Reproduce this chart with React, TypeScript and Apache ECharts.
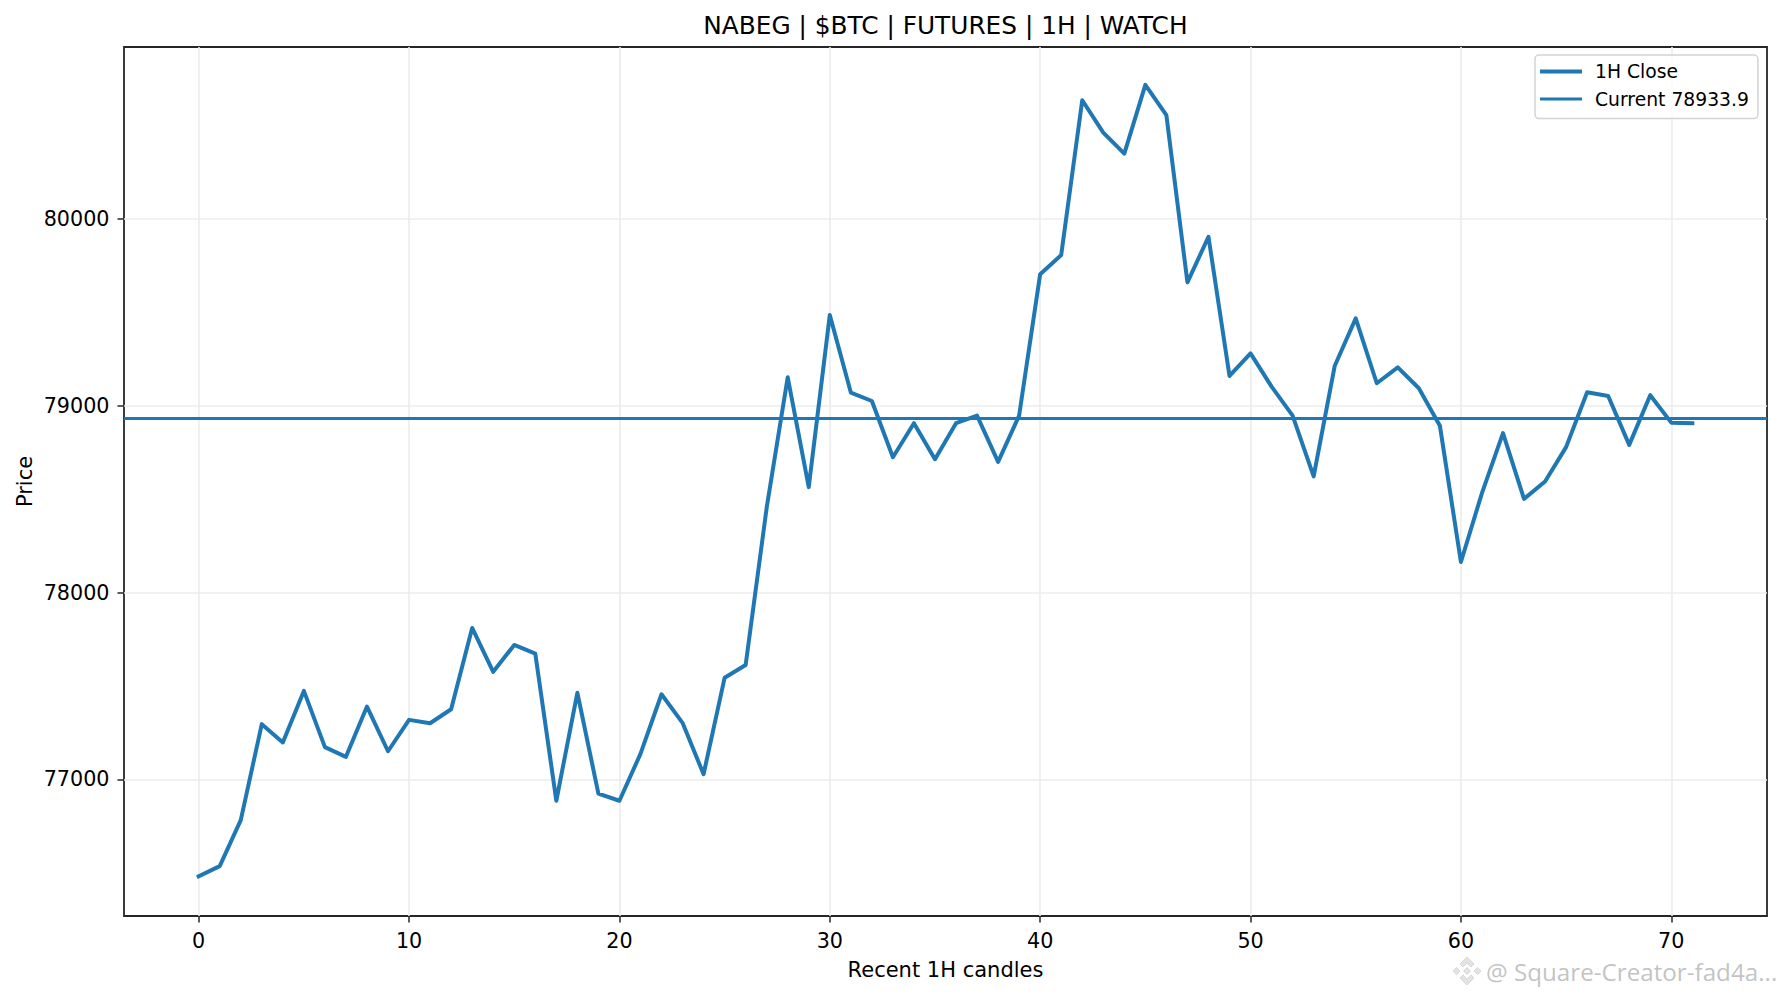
import React, { useEffect, useRef } from "react";
import * as echarts from "echarts";

const closeSeriesName = "1H Close";
const currentPrice = 78933.9;
const currentSeriesName = "Current 78933.9";
const titleText = "NABEG | $BTC | FUTURES | 1H | WATCH";
const xAxisLabel = "Recent 1H candles";
const yAxisLabel = "Price";
const xTicks = [0, 10, 20, 30, 40, 50, 60, 70];
const yTicks = [77000, 78000, 79000, 80000];
const closes = [
  76481, 76536, 76782, 77296, 77198, 77474, 77173, 77121, 77390, 77151,
  77319, 77301, 77376, 77811, 77576, 77720, 77674, 76886, 77464, 76924,
  76886, 77137, 77456, 77303, 77028, 77544, 77613, 78455, 79153, 78565,
  79486, 79071, 79026, 78725, 78907, 78714, 78907, 78948, 78700, 78948,
  79705, 79807, 80636, 80463, 80350, 80718, 80556, 79661, 79905, 79160,
  79281, 79103, 78948, 78622, 79213, 79468, 79121, 79206, 79094, 78894,
  78164, 78533, 78854, 78502, 78595, 78779, 79073, 79053, 78791, 79057,
  78910, 78907,
];

const BLUE = "#1f77b4";
const FONT = "DejaVu Sans";

echarts.graphic.registerShape(
  "wmLogo",
  echarts.graphic.extendPath(
    "M0 -14 L7 -7 L4 -4 L0 -8 L-4 -4 L-7 -7 Z M-14 0 L-10.5 -3.5 L-7 0 L-10.5 3.5 Z M14 0 L10.5 -3.5 L7 0 L10.5 3.5 Z M0 -3.5 L3.5 0 L0 3.5 L-3.5 0 Z M0 14 L7 7 L4 4 L0 8 L-4 4 L-7 7 Z",
    {}
  )
);

export default function App() {
  const ref = useRef<HTMLDivElement>(null);
  useEffect(() => {
    document.body.style.margin = "0";
    const chart = echarts.init(ref.current!, undefined, { renderer: "svg" });
    chart.setOption({
      animation: false,
      backgroundColor: "#ffffff",
      textStyle: { fontFamily: FONT },
      title: {
        text: titleText,
        left: 945.4,
        top: 12.5,
        textAlign: "center",
        padding: 0,
        textStyle: { fontFamily: FONT, fontSize: 24.8, fontWeight: "normal", color: "#000" },
      },
      grid: {
        left: 124,
        top: 47,
        width: 1643,
        height: 869,
        show: true,
        borderColor: "#262626",
        borderWidth: 1.8,
        backgroundColor: "transparent",
      },
      legend: {
        left: 1535,
        top: 55,
        orient: "vertical",
        padding: [5.6, 9, 8.6, 5],
        itemWidth: 42,
        itemHeight: 14,
        itemGap: 5.4,
        borderColor: "#d4d4d4",
        borderWidth: 1.5,
        borderRadius: 4,
        backgroundColor: "rgba(255,255,255,0.8)",
        selectedMode: false,
        textStyle: { fontFamily: FONT, fontSize: 18.75, lineHeight: 22, color: "#000", padding: [0, 0, 0, 8] },
        data: [
          { name: closeSeriesName, icon: "path://M0 0H42V4H0Z" },
          { name: currentSeriesName, icon: "path://M0 0H42V3H0Z" },
        ],
      },
      xAxis: {
        type: "value",
        min: -3.55,
        max: 74.55,
        name: xAxisLabel,
        nameLocation: "middle",
        nameGap: 43,
        nameTextStyle: { fontFamily: FONT, fontSize: 21, color: "#000" },
        axisLine: { show: false, onZero: false },
        axisTick: { show: true, length: 6.5, customValues: xTicks, lineStyle: { color: "#262626", width: 1.5 } },
        axisLabel: { customValues: xTicks, margin: 14, fontFamily: FONT, fontSize: 20.7, color: "#000", formatter: (v: number) => String(v) },
        splitLine: { show: true, lineStyle: { color: "#ececec", width: 1.6 } },
      },
      yAxis: {
        type: "value",
        min: 76269,
        max: 80921,
        name: yAxisLabel,
        nameLocation: "middle",
        nameRotate: 90,
        nameGap: 88.5,
        nameMoveOverlap: false,
        nameTextStyle: { fontFamily: FONT, fontSize: 21, color: "#000" },
        axisLine: { show: false, onZero: false },
        axisTick: { show: true, length: 6.5, customValues: yTicks, lineStyle: { color: "#262626", width: 1.5 } },
        axisLabel: { customValues: yTicks, margin: 14.5, fontFamily: FONT, fontSize: 20.7, color: "#000", formatter: (v: number) => String(v) },
        splitLine: { show: true, lineStyle: { color: "#ececec", width: 1.6 } },
      },
      series: [
        {
          name: closeSeriesName,
          type: "line",
          symbol: "none",
          showSymbol: false,
          data: closes.map((v, i) => [i, v]),
          itemStyle: { color: BLUE },
          lineStyle: { color: BLUE, width: 4, cap: "square", join: "round" },
          z: 3,
        },
        {
          name: currentSeriesName,
          type: "line",
          symbol: "none",
          showSymbol: false,
          data: [],
          itemStyle: { color: BLUE },
          lineStyle: { color: BLUE, width: 3 },
          markLine: {
            silent: true,
            symbol: "none",
            label: { show: false },
            lineStyle: { color: BLUE, width: 3, type: "solid" },
            data: [{ yAxis: currentPrice }],
          },
          z: 4,
        },
      ],
      graphic: [
        {
          type: "wmLogo",
          x: 1467,
          y: 971,
          silent: true,
          style: { fill: "rgba(200,200,200,0.5)", stroke: "rgba(170,170,170,0.35)", lineWidth: 1 },
        },
        {
          type: "text",
          x: 1486,
          y: 971,
          silent: true,
          style: {
            text: "@ Square-Creator-fad4a...",
            fontFamily: "Open Sans",
            fontSize: 24.2,
            fill: "rgba(175,175,175,0.75)",
            textVerticalAlign: "middle",
            verticalAlign: "middle",
          },
        },
      ],
    });
    return () => chart.dispose();
  }, []);
  return <div ref={ref} style={{ position: "absolute", left: 0, top: 0, width: 1782, height: 996 }} />;
}
